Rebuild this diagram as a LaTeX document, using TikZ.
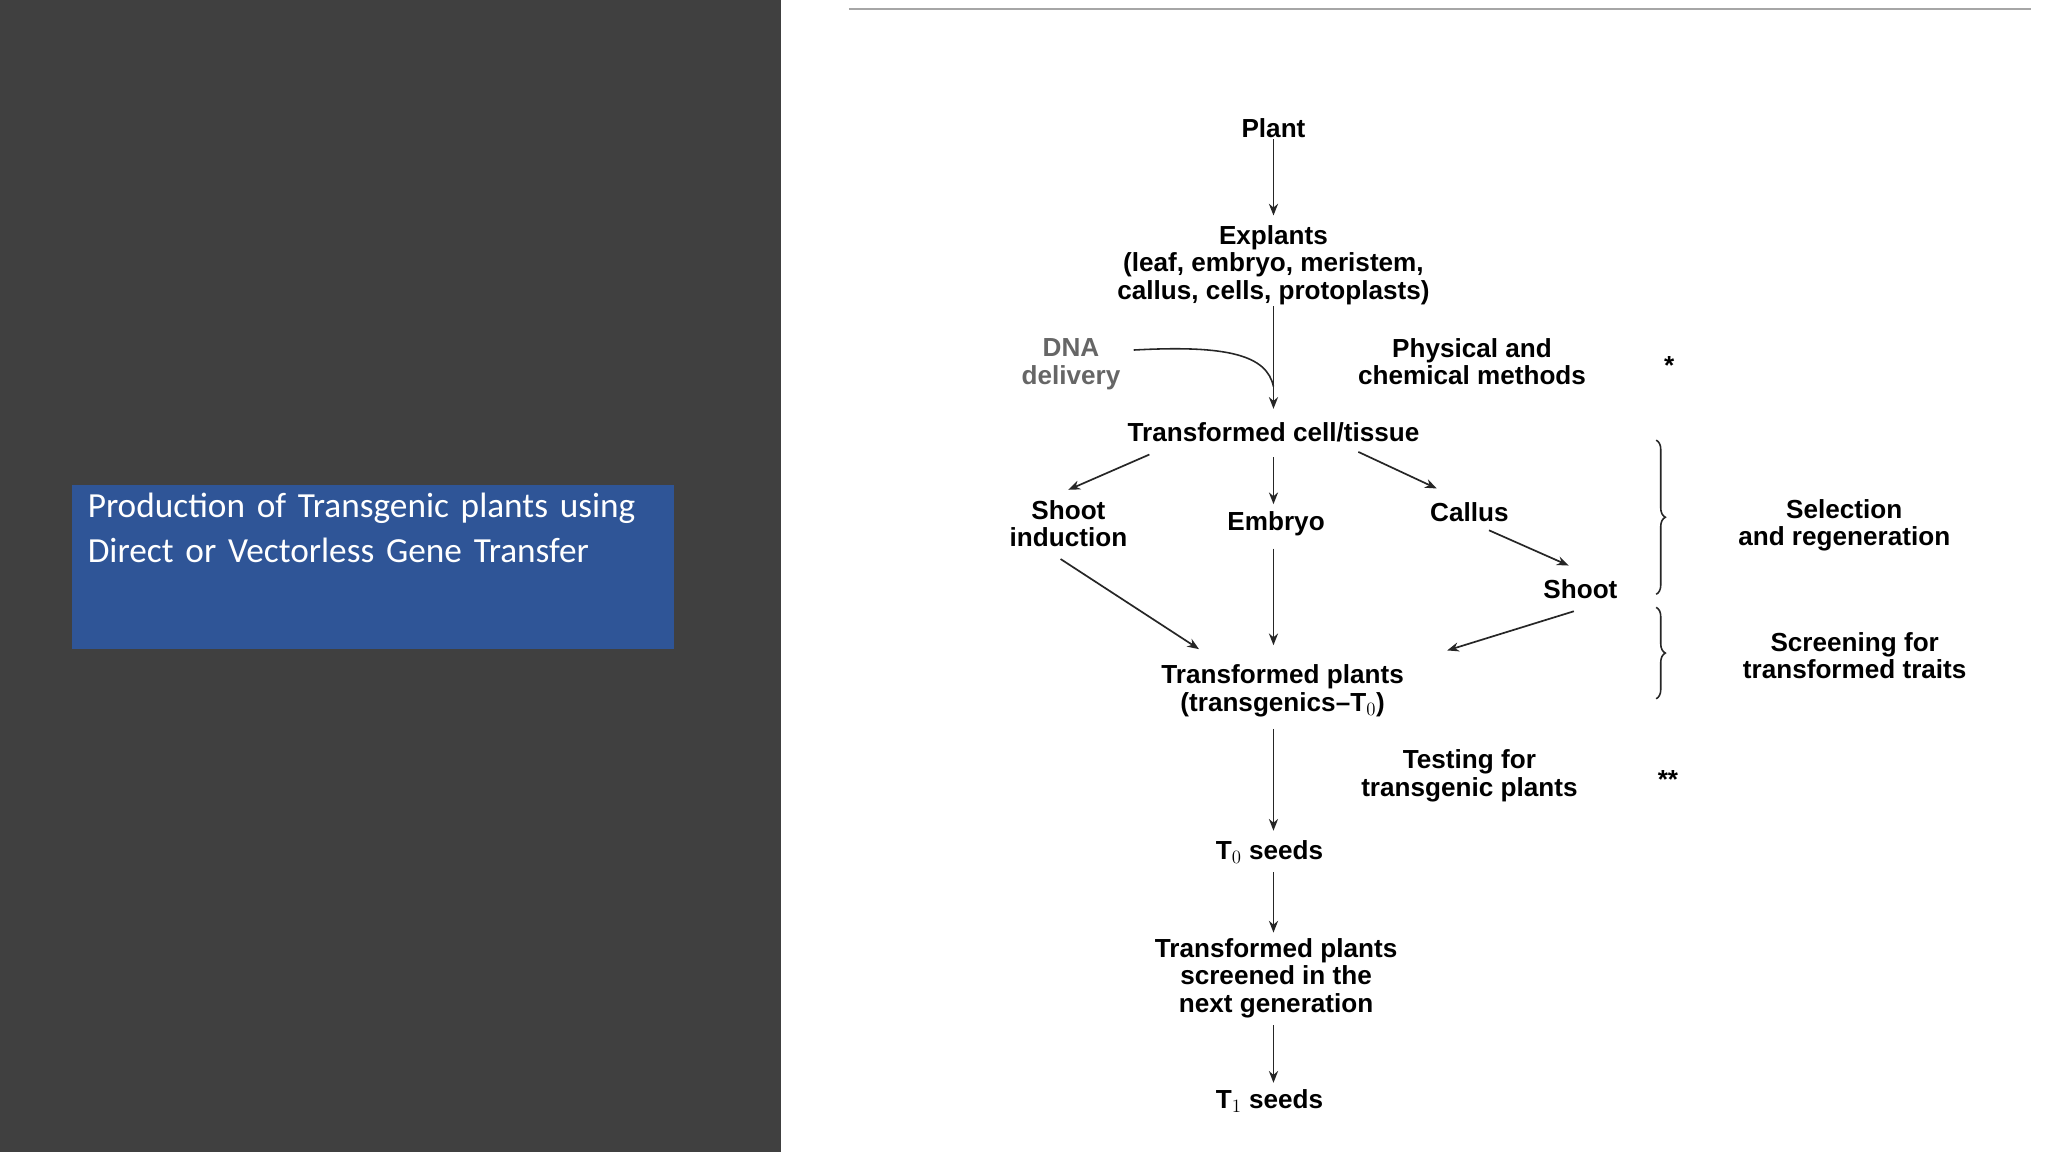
\documentclass[tikz,border=0pt]{standalone}
\usepackage{fontspec}
\setmainfont{Liberation Sans}
\newfontfamily\carlitofont{Carlito}
\usetikzlibrary{arrows.meta,decorations.pathreplacing}
\begin{document}
\begin{tikzpicture}[x=1pt,y=-1pt,
 lbl/.style={font=\fontsize{20}{21}\selectfont\bfseries,align=center,inner sep=1pt},
 arr/.style={draw=black!85,line width=1.3pt,-{Stealth[length=9pt,width=7pt]}},
 br/.style={draw=black!85,line width=1.2pt,decorate,decoration={brace,amplitude=7pt}}]
\useasboundingbox (0,0) rectangle (1568,882);
\fill[white] (0,0) rectangle (1568,882);
\fill[black!75] (0,0) rectangle (598,882);
\draw[black!35,line width=1pt] (650,7) -- (1555,7);
\node[fill={rgb,255:red,47;green,85;blue,151},minimum width=461pt,minimum height=126pt,anchor=north west,inner sep=0pt] (box) at (55,371) {};
\node[anchor=north west,text=white,font=\carlitofont\fontsize{27}{35}\selectfont,align=left,text width=450pt,inner sep=0pt] (title) at (67,377) {Production of Transgenic plants using Direct or Vectorless Gene Transfer};

\node[lbl] (plant) at (975,98) {Plant};
\node[lbl] (expl) at (975,203) {Explants\\(leaf, embryo, meristem,\\callus, cells, protoplasts)};
\node[lbl,text=black!60] (dna) at (820,279) {DNA\\delivery};
\node[lbl] (phys) at (1127,277) {Physical and\\chemical methods};
\node[lbl] (ast1) at (1278,280) {*};
\node[lbl] (tct) at (975,331) {Transformed cell/tissue};
\node[lbl] (si) at (818,401) {Shoot\\induction};
\node[lbl] (emb) at (977,401) {Embryo};
\node[lbl] (cal) at (1125,392) {Callus};
\node[lbl] (sh) at (1210,451) {Shoot};
\node[lbl] (tp) at (982,529) {Transformed plants\\(transgenics--T$_0$)};
\node[lbl] (sel) at (1412,402) {Selection\\and regeneration};
\node[lbl] (scr) at (1420,502) {Screening for\\transformed traits};
\node[lbl] (test) at (1125,594) {Testing for\\transgenic plants};
\node[lbl] (ast2) at (1277,597) {**};
\node[lbl] (t0) at (972,652) {T$_0$ seeds};
\node[lbl] (tps) at (977,749) {Transformed plants\\screened in the\\next generation};
\node[lbl] (t1) at (972,843) {T$_1$ seeds};

\draw[arr] (plant) -- (975,165);
\draw[arr] (expl) -- (975,313);
\draw[line width=1.2pt,black!85] (868,268) .. controls (940,264) and (970,272) .. (975,296);
\draw[arr] (880,348) -- (818,375);
\draw[arr] (975,350) -- (975,386);
\draw[arr] (1040,346) -- (1100,374);
\draw[arr] (1140,406) -- (1201,433);
\draw[arr] (812,428) -- (918,497);
\draw[arr] (975,420) -- (975,494);
\draw[arr] (1205,468) -- (1108,498);
\draw[arr] (975,558) -- (975,636);
\draw[arr] (975,668) -- (975,714);
\draw[arr] (975,785) -- (975,829);
\draw[br] (1268,337) -- (1268,455);
\draw[br] (1268,465) -- (1268,535);
\end{tikzpicture}
\end{document}
